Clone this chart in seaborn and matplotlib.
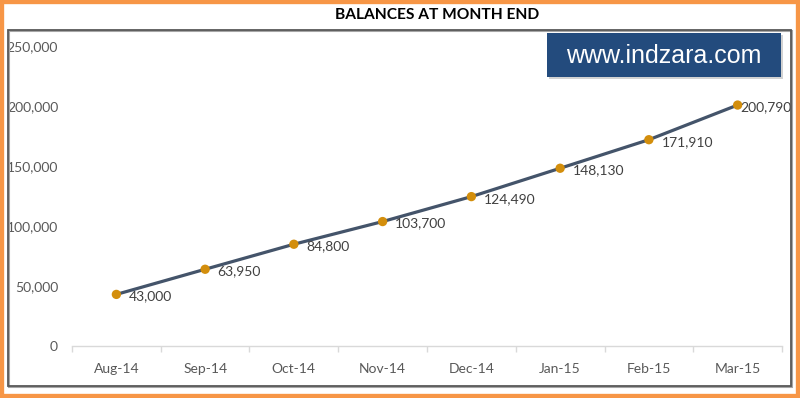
import matplotlib
matplotlib.use("Agg")
import matplotlib.pyplot as plt
from matplotlib.patches import Rectangle
from matplotlib.ticker import FuncFormatter, FixedLocator
import seaborn as sns
import pandas as pd

months = ["Aug-14", "Sep-14", "Oct-14", "Nov-14", "Dec-14", "Jan-15", "Feb-15", "Mar-15"]
balances = [43000, 63950, 84800, 103700, 124490, 148130, 171910, 200790]
y_ticks = [0, 50000, 100000, 150000, 200000, 250000]
title = "BALANCES AT MONTH END"
watermark = "www.indzara.com"

sns.set_theme(style="white")
plt.rcParams['font.family'] = ['Lato', 'DejaVu Sans']

df = pd.DataFrame({"month": months, "balance": balances, "idx": range(len(months))})

fig = plt.figure(figsize=(8.0, 3.98), dpi=100)
ax = fig.add_axes([72/800, 52/398, 710/800, 300/398])

sns.lineplot(data=df, x="idx", y="balance", ax=ax, color="#44546A", linewidth=2.3, sort=False)
sns.scatterplot(data=df, x="idx", y="balance", ax=ax, color="#D38E0C", s=45, edgecolor="none", zorder=5)

n = len(months)
for i, v in zip(df["idx"], df["balance"]):
    dx = 2 if i == n - 1 else 9
    ax.annotate(f"{v:,}", (i, v), xytext=(dx, -1.5), textcoords="offset points",
                ha="left", va="center", fontsize=10, color="#404040",
                annotation_clip=False, zorder=6)

ax.set_xlim(-0.5, n - 0.5)
ax.set_ylim(0, 250000)
ax.set_xticks(range(n))
ax.set_xticklabels(months)
ax.xaxis.set_minor_locator(FixedLocator([i - 0.5 for i in range(n + 1)]))
ax.set_yticks(y_ticks)
ax.yaxis.set_major_formatter(FuncFormatter(lambda v, p: f"{int(v):,}"))
ax.set_xlabel("")
ax.set_ylabel("")

for s in ["top", "right", "left"]:
    ax.spines[s].set_visible(False)
ax.spines["bottom"].set_color("#D9D9D9")
ax.spines["bottom"].set_linewidth(1.0)
ax.tick_params(axis="x", which="major", length=0, pad=12, labelsize=10, labelcolor="#595959")
ax.tick_params(axis="x", which="minor", length=4, width=1, color="#D9D9D9", bottom=True)
ax.tick_params(axis="y", length=0, pad=10, labelsize=10, labelcolor="#595959")
ax.grid(False)

# inner chart box (with light shadow on right/bottom)
fig.patches.append(Rectangle((9/800, 11/398), 783/800, 356/398, transform=fig.transFigure,
                             fill=False, edgecolor="#A6A6A6", linewidth=1.5, zorder=0))
fig.patches.append(Rectangle((8/800, 12/398), 783/800, 356/398, transform=fig.transFigure,
                             fill=False, edgecolor="#595959", linewidth=1.3, zorder=1))
# orange outer border
fig.patches.append(Rectangle((0, 0), 1, 1, transform=fig.transFigure,
                             fill=False, edgecolor="#F79646", linewidth=6, zorder=10))

fig.text(437/800, 1 - 15/398, title, ha="center", va="center", fontsize=11.2,
         fontweight="bold", color="#000000")

# watermark box
fig.patches.append(Rectangle((549/800, 1 - 79/398), 234/800, 44/398, transform=fig.transFigure,
                             facecolor="#BFBFBF", edgecolor="none", zorder=3, alpha=0.7))
fig.patches.append(Rectangle((547/800, 1 - 77/398), 234/800, 44/398, transform=fig.transFigure,
                             facecolor="#234B7D", edgecolor="none", zorder=4))
fig.text(664/800, 1 - 56/398, watermark, ha="center", va="center", fontsize=18,
         color="white", family=["Liberation Sans", "DejaVu Sans"], zorder=5)

fig.savefig("out.png", dpi=100)
